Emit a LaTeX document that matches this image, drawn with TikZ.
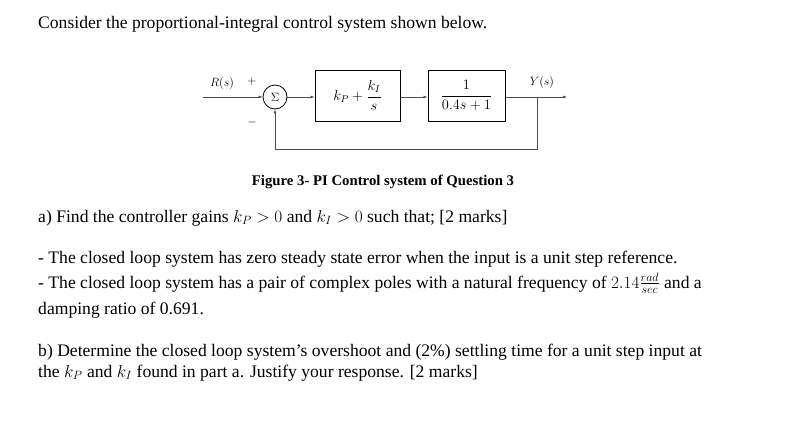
\documentclass[tikz,border=0pt]{standalone}
\usepackage{amsmath}
\usepackage{fontspec}
\setmainfont{Liberation Serif}
\setsansfont{Liberation Sans}
\usetikzlibrary{arrows.meta}
\begin{document}
\begin{tikzpicture}[x=1pt,y=-1pt,
  txt/.style={anchor=base west,inner sep=0pt,font=\fontsize{17.6}{20}\selectfont},
  blk/.style={draw,line width=1pt,minimum width=85pt,minimum height=51pt,inner sep=0pt},
  sig/.style={draw=black!70,line width=0.6pt,-{Latex[length=4pt,width=3pt]}},
  lab/.style={inner sep=0pt,font=\fontsize{13}{15}\selectfont}]
\useasboundingbox (0,0) rectangle (810,421);
\node[txt] (t1) at (38,28) {Consider the proportional-integral control system shown below.};
\coordinate (in) at (203,97);
\node[draw,circle,line width=0.8pt,minimum size=24pt,inner sep=0pt,font=\fontsize{13}{15}\selectfont] (sum) at (275,97) {$\Sigma$};
\node[blk] (c) at (357.5,95.5) {\fontsize{14}{16}\selectfont $k_P+\dfrac{k_I}{s}$};
\node[blk,minimum width=77pt] (g) at (466.5,95.5) {\fontsize{14}{16}\selectfont $\dfrac{1}{0.4s+1}$};
\coordinate (out) at (567,97);
\coordinate (tap) at (537,97);
\coordinate (fb) at (537,149);
\draw[sig] (in) -- (sum);
\draw[sig] (sum) -- (c.west |- sum);
\draw[sig] (c.east |- sum) -- (g.west |- sum);
\draw[sig] (g.east |- sum) -- (out);
\draw[sig] (tap) -- (fb) -- (sum.south |- fb) -- (sum.south);
\node[lab] (r) at (222,83) {$R(s)$};
\node[lab] (p) at (252,81) {$+$};
\node[lab] (m) at (252,122) {$-$};
\node[lab] (y) at (542,82) {$Y(s)$};
\node[anchor=base,inner sep=0pt,font=\bfseries\fontsize{14.75}{17}\selectfont] (cap) at (383,185) {Figure 3- PI Control system of Question 3};
\node[txt] (a) at (38,222) {a) Find the controller gains $k_P>0$ and $k_I>0$ such that; [2 marks]};
\node[txt] (l1) at (38,263) {- The closed loop system has zero steady state error when the input is a unit step reference.};
\node[txt] (l2) at (38,288) {- The closed loop system has a pair of complex poles with a natural frequency of $2.14\tfrac{rad}{sec}$ and a};
\node[txt] (l3) at (38,314) {damping ratio of 0.691.};
\node[txt] (b1) at (38,356) {b) Determine the closed loop system's overshoot and (2\%) settling time for a unit step input at};
\node[txt] (b2) at (38,377) {the $k_P$ and $k_I$ found in part a. Justify your response. [2 marks]};
\end{tikzpicture}
\end{document}
